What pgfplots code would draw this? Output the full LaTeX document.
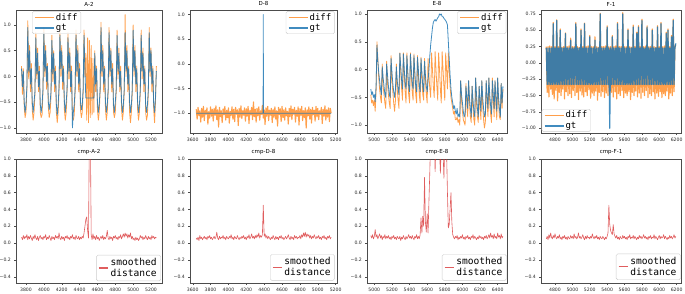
\documentclass[border=0pt]{standalone}
\usepackage{pgfplots}
\pgfplotsset{compat=1.18}
\usepackage{pgfplotstable}
\usepackage{fontspec}
\setmainfont{DejaVu Sans}
\setmonofont{DejaVu Sans Mono}
\definecolor{mblue}{HTML}{1F77B4}
\definecolor{morange}{HTML}{FF7F0E}
\definecolor{mred}{HTML}{D62728}

\pgfplotstableread{
x gt diff dist
3750 0.15 0.2 0.07
3760 -0.2 -0.35 0.04
3770 0.1 0.15 0.09
3780 -0.5 -0.6 0.05
3790 -0.7 -0.8 0.08
3800 -0.55 -0.7 0.06
3810 -0.2 -0.25 0.1
3820 0.95 1.08 0.04
3830 0.1 -0.05 0.08
3840 0.5 0.6 0.05
3850 -0.15 -0.3 0.09
3860 0.15 0.25 0.06
3870 -0.5 -0.65 0.03
3880 -0.7 -0.85 0.08
3890 -0.5 -0.7 0.05
3900 -0.3 -0.35 0.1
3910 0.75 0.85 0.06
3920 0.05 -0.05 0.04
3930 0.45 0.55 0.08
3940 -0.2 -0.3 0.03
3950 0.1 0.2 0.07
3960 -0.55 -0.7 0.09
3970 -0.7 -0.8 0.05
3980 -0.55 -0.75 0.07
3990 -0.25 -0.3 0.04
4000 0.85 0.95 0.08
4010 0.1 0.0 0.06
4020 0.5 0.6 0.1
4030 -0.1 -0.25 0.04
4040 0.2 0.25 0.07
4050 -0.5 -0.6 0.05
4060 -0.65 -0.8 0.09
4070 -0.5 -0.7 0.06
4080 -0.3 -0.4 0.03
4090 0.7 0.8 0.08
4100 0.05 -0.1 0.05
4110 0.45 0.5 0.07
4120 -0.15 -0.3 0.04
4130 0.1 0.2 0.09
4140 -0.55 -0.7 0.06
4150 -0.75 -0.9 0.08
4160 -0.55 -0.7 0.05
4170 -0.2 -0.3 0.12
4180 0.8 0.9 0.06
4190 0.15 0.0 0.04
4200 0.5 0.6 0.08
4210 -0.1 -0.25 0.05
4220 0.15 0.2 0.07
4230 -0.5 -0.65 0.03
4240 -0.7 -0.85 0.08
4250 -0.5 -0.7 0.06
4260 -0.25 -0.3 0.09
4270 0.75 0.85 0.05
4280 0.1 -0.05 0.07
4290 0.45 0.55 0.04
4300 -0.2 -0.3 0.08
4310 0.1 0.2 0.06
4320 -1.0 -0.8 0.1
4330 -0.7 -0.85 0.05
4340 -0.55 -0.75 0.07
4350 -0.25 -0.3 0.04
4360 0.8 0.9 0.09
4370 0.1 0.0 0.06
4380 0.5 0.6 0.05
4390 -0.15 -0.3 0.08
4400 0.15 0.25 0.04
4410 -0.5 -0.65 0.07
4420 -0.65 -0.8 0.05
4430 -0.55 -0.7 0.08
4440 -0.25 -0.3 0.06
4450 0.8 0.9 0.12
4460 0.1 0.0 0.2
4470 -0.42 0.45 0.28
4480 -0.42 -0.85 0.31
4490 -0.42 0.75 0.15
4500 -0.42 -0.9 0.06
4510 -0.42 0.7 1.4
4520 -0.42 -0.8 1.4
4530 -0.42 0.6 0.1
4540 -0.42 -0.75 0.04
4550 -0.42 0.35 0.11
4560 -0.42 -0.7 0.05
4570 0.45 0.5 0.08
4580 -0.15 -0.3 0.04
4590 0.15 0.2 0.09
4600 -0.5 -0.65 0.05
4610 -0.7 -0.85 0.07
4620 -0.55 -0.7 0.03
4630 -0.25 -0.3 0.06
4640 0.95 1.05 0.08
4650 0.1 0.0 0.05
4660 0.5 0.6 0.09
4670 -0.15 -0.3 0.04
4680 0.15 0.2 0.07
4690 -0.5 -0.65 0.05
4700 -0.7 -0.85 0.08
4710 -0.55 -0.7 0.15
4720 -0.25 -0.3 0.06
4730 0.85 0.95 0.04
4740 0.1 0.0 0.08
4750 0.5 0.55 0.05
4760 -0.15 -0.3 0.07
4770 0.15 0.25 0.03
4780 -0.55 -0.7 0.08
4790 -0.7 -0.8 0.06
4800 -0.5 -0.7 0.09
4810 -0.25 -0.3 0.05
4820 0.8 0.9 0.07
4830 0.1 -0.05 0.04
4840 0.45 0.55 0.08
4850 -0.2 -0.3 0.06
4860 0.1 0.2 0.1
4870 -0.5 -0.65 0.05
4880 -0.7 -0.85 0.08
4890 -0.55 -0.7 0.11
4900 -0.25 -0.3 0.07
4910 0.85 1.2 0.12
4920 0.1 0.0 0.08
4930 0.5 0.6 0.11
4940 -0.15 -0.3 0.06
4950 0.15 0.2 0.1
4960 -0.5 -0.7 0.07
4970 -0.7 -0.9 0.12
4980 -0.55 -0.7 0.05
4990 -0.25 -0.3 0.08
5000 0.9 1.0 0.04
5010 0.1 0.0 0.06
5020 0.5 0.6 0.03
5030 -0.15 -0.3 0.07
5040 0.15 0.2 0.04
5050 -0.5 -0.65 0.06
5060 -0.7 -0.85 0.03
5070 -0.55 -0.7 0.05
5080 -0.25 -0.3 0.09
5090 0.8 0.9 0.06
5100 0.1 -0.05 0.08
5110 0.45 0.55 0.04
5120 -0.15 -0.3 0.07
5130 0.15 0.2 0.05
5140 -0.55 -0.7 0.09
5150 -0.7 -0.85 0.06
5160 -0.55 -0.75 0.04
5170 -0.25 -0.3 0.08
5180 0.85 0.95 0.05
5190 0.1 0.0 0.07
5200 0.5 0.55 0.04
5210 -0.15 -0.3 0.09
5220 0.15 0.2 0.06
5230 -0.55 -0.65 0.08
5240 -0.7 -0.9 0.05
5250 -0.4 -0.5 0.07
5260 0.1 0.2 0.06
}\tabA

\pgfplotstableread{
x diff dist
3640 -0.92 0.06
3650 -1.12 0.04
3660 -0.88 0.07
3670 -1.05 0.03
3680 -0.95 0.09
3690 -1.18 0.05
3700 -0.9 0.07
3710 -1.08 0.04
3720 -0.86 0.06
3730 -1.15 0.08
3740 -0.94 0.05
3750 -1.02 0.07
3760 -0.89 0.04
3770 -1.22 0.08
3780 -0.97 0.06
3790 -1.1 0.09
3800 -0.87 0.05
3810 -1.06 0.07
3820 -0.92 0.04
3830 -1.16 0.06
3840 -0.9 0.08
3850 -1.04 0.05
3860 -0.85 0.07
3870 -1.13 0.13
3880 -0.93 0.06
3890 -1.28 0.04
3900 -0.88 0.08
3910 -1.07 0.05
3920 -0.95 0.07
3930 -1.19 0.06
3940 -0.91 0.09
3950 -1.03 0.05
3960 -0.86 0.07
3970 -1.14 0.04
3980 -0.94 0.08
3990 -1.09 0.06
4000 -0.89 0.05
4010 -1.2 0.08
4020 -0.96 0.06
4030 -1.05 0.1
4040 -0.87 0.05
4050 -1.12 0.07
4060 -0.92 0.04
4070 -1.17 0.08
4080 -0.88 0.06
4090 -1.02 0.05
4100 -0.93 0.09
4110 -1.25 0.06
4120 -0.9 0.04
4130 -1.08 0.07
4140 -0.85 0.05
4150 -1.11 0.08
4160 -0.95 0.06
4170 -1.04 0.09
4180 -0.89 0.05
4190 -1.16 0.07
4200 -0.91 0.04
4210 -1.06 0.08
4220 -0.86 0.06
4230 -1.21 0.1
4240 -0.94 0.05
4250 -1.03 0.07
4260 -0.88 0.11
4270 -1.13 0.06
4280 -0.77 0.08
4290 -1.07 0.05
4300 -0.92 0.09
4310 -1.18 0.06
4320 -0.9 0.1
4330 -1.05 0.07
4340 -0.87 0.12
4350 -1.14 0.06
4360 -0.95 0.09
4370 -1.02 0.07
4380 -0.84 0.1
4390 -1.1 0.45
4400 -0.93 0.08
4410 -1.23 0.11
4420 -0.89 0.06
4430 -1.06 0.09
4440 -0.86 0.05
4450 -1.15 0.08
4460 -0.94 0.06
4470 -1.04 0.04
4480 -0.9 0.07
4490 -1.19 0.05
4500 -0.92 0.09
4510 -1.08 0.06
4520 -0.87 0.04
4530 -1.12 0.08
4540 -0.95 0.05
4550 -1.26 0.07
4560 -0.88 0.04
4570 -1.03 0.08
4580 -0.91 0.06
4590 -1.17 0.09
4600 -0.86 0.05
4610 -1.09 0.07
4620 -0.93 0.04
4630 -1.14 0.06
4640 -0.89 0.08
4650 -1.05 0.05
4660 -0.96 0.07
4670 -1.22 0.1
4680 -0.9 0.06
4690 -1.07 0.04
4700 -0.85 0.08
4710 -1.13 0.05
4720 -0.92 0.07
4730 -1.02 0.04
4740 -0.88 0.09
4750 -1.18 0.06
4760 -0.94 0.08
4770 -1.06 0.05
4780 -0.87 0.07
4790 -1.24 0.06
4800 -0.91 0.09
4810 -1.04 0.05
4820 -0.86 0.1
4830 -1.15 0.07
4840 -0.95 0.12
4850 -1.09 0.08
4860 -0.89 0.13
4870 -1.3 0.07
4880 -0.93 0.11
4890 -1.05 0.08
4900 -0.87 0.1
4910 -1.12 0.06
4920 -0.92 0.09
4930 -1.2 0.05
4940 -0.88 0.08
4950 -1.03 0.06
4960 -0.94 0.1
4970 -1.16 0.07
4980 -0.86 0.05
4990 -1.07 0.08
5000 -0.9 0.06
5010 -1.13 0.09
5020 -0.95 0.05
5030 -1.02 0.07
5040 -0.88 0.04
5050 -1.21 0.08
5060 -0.92 0.06
5070 -1.06 0.09
5080 -0.85 0.05
5090 -1.14 0.07
5100 -0.93 0.04
5110 -1.08 0.08
5120 -0.89 0.06
5130 -1.17 0.09
5140 -0.9 0.05
5150 -1.0 0.07
}\tabD

\pgfplotstableread{
x gt diff dist
4960 -0.35 -0.45 0.09
4970 -0.45 -0.6 0.06
4980 -0.4 -0.55 0.1
4990 -0.5 -0.65 0.05
5000 -0.45 -0.55 0.08
5010 -0.58 -0.75 0.16
5020 -0.3 -0.4 0.07
5030 0.44 0.5 0.1
5040 0.15 0.2 0.05
5050 -0.05 -0.15 0.08
5060 -0.2 -0.35 0.11
5070 -0.35 -0.5 0.06
5080 -0.45 -0.6 0.09
5090 0.05 0.1 0.04
5100 -0.15 -0.3 0.08
5110 -0.3 -0.45 0.06
5120 -0.45 -0.6 0.1
5130 -0.5 -0.7 0.05
5140 0.1 0.15 0.08
5150 -0.1 -0.25 0.06
5160 -0.3 -0.45 0.09
5170 -0.45 -0.6 0.05
5180 -0.5 -0.7 0.07
5190 0.2 0.25 0.04
5200 -0.05 -0.2 0.08
5210 -0.25 -0.4 0.06
5220 -0.4 -0.6 0.09
5230 -0.5 -0.75 0.05
5240 -0.35 -0.55 0.07
5250 0.05 0.1 0.04
5260 -0.2 -0.35 0.08
5270 -0.35 -0.55 0.06
5280 -0.45 -0.7 0.05
5290 0.29 0.3 0.08
5300 0.05 -0.05 0.03
5310 -0.2 -0.35 0.07
5320 -0.35 -0.55 0.05
5330 0.28 0.3 0.09
5340 0.0 -0.1 0.06
5350 -0.25 -0.4 0.04
5360 -0.35 -0.6 0.08
5370 0.25 0.3 0.05
5380 -0.05 -0.15 0.07
5390 -0.3 -0.45 0.1
5400 -0.4 -0.6 0.06
5410 0.28 0.3 0.08
5420 0.0 -0.1 0.05
5430 -0.25 -0.4 0.09
5440 -0.35 -0.55 0.06
5450 0.25 0.28 0.04
5460 -0.05 -0.15 0.08
5470 -0.3 -0.45 0.06
5480 -0.4 -0.6 0.1
5490 0.22 0.25 0.05
5500 0.0 -0.1 0.08
5510 -0.3 -0.45 0.05
5520 -0.4 -0.6 0.1
5530 0.2 0.22 0.3
5540 -0.05 -0.15 0.12
5550 -0.3 -0.45 0.32
5560 -0.4 -0.55 0.2
5570 0.15 0.2 0.78
5580 -0.1 -0.2 0.25
5590 -0.3 -0.45 0.13
5600 -0.4 -0.6 0.35
5610 -0.2 0.2 0.12
5620 0.0 -0.1 0.5
5630 0.25 -0.35 0.85
5640 0.45 -0.5 1.3
5650 0.6 0.3 1.2
5660 0.75 0.0 1.3
5670 0.85 -0.3 1.15
5680 0.88 -0.5 1.3
5690 0.9 0.32 0.85
5700 0.87 0.0 1.2
5710 0.9 -0.3 1.3
5720 0.93 -0.55 1.2
5730 0.95 0.3 1.3
5740 1.0 0.0 1.1
5750 0.98 -0.35 0.83
5760 1.0 -0.6 1.2
5770 0.95 0.32 1.3
5780 0.95 0.0 1.1
5790 0.92 -0.3 0.77
5800 0.9 -0.55 1.2
5810 0.88 0.3 1.3
5820 0.85 0.0 1.1
5830 0.8 -0.35 0.6
5840 0.5 0.3 0.18
5850 0.2 0.0 0.22
5860 -0.1 -0.3 0.4
5870 -0.35 -0.5 0.6
5880 -0.5 -0.6 0.25
5890 -0.6 -0.7 0.1
5900 -0.7 -0.8 0.07
5910 -0.65 -0.75 0.05
5920 -0.75 -0.9 0.08
5930 -0.8 -0.9 0.06
5940 -0.7 -0.85 0.09
5950 -0.85 -0.95 0.04
5960 -0.8 -0.9 0.07
5970 -0.85 -1.0 0.05
5980 -0.2 -0.2 0.08
5990 -0.45 -0.55 0.06
6000 -0.6 -0.75 0.1
6010 -0.75 -0.9 0.05
6020 -0.85 -0.95 0.07
6030 -0.8 -1.0 0.04
6040 -0.3 -0.25 0.08
6050 -0.5 -0.65 0.06
6060 -0.7 -0.85 0.09
6070 -0.2 -0.2 0.05
6080 -0.5 -0.6 0.07
6090 -0.7 -0.85 0.04
6100 -0.85 -0.95 0.08
6110 -0.3 -0.3 0.06
6120 -0.55 -0.7 0.1
6130 -0.75 -0.9 0.05
6140 -0.85 -1.0 0.08
6150 -0.15 -0.15 0.06
6160 -0.45 -0.6 0.04
6170 -0.7 -0.85 0.07
6180 -0.85 -0.95 0.05
6190 -0.3 -0.3 0.09
6200 -0.55 -0.7 0.06
6210 -0.75 -0.9 0.08
6220 -0.2 -0.2 0.05
6230 -0.5 -0.65 0.07
6240 -0.7 -0.9 0.04
6250 -0.85 -1.05 0.08
6260 -0.8 -0.95 0.06
6270 -0.2 -0.2 0.09
6280 -0.5 -0.6 0.05
6290 -0.7 -0.85 0.07
6300 -0.15 -0.15 0.1
6310 -0.45 -0.6 0.06
6320 -0.65 -0.8 0.12
6330 -0.8 -0.95 0.07
6340 -0.2 -0.15 0.09
6350 -0.45 -0.55 0.05
6360 -0.7 -0.85 0.11
6370 -0.2 -0.2 0.06
6380 -0.5 -0.65 0.08
6390 -0.75 -0.9 0.05
6400 -0.15 -0.15 0.12
6410 -0.5 -0.6 0.07
6420 -0.7 -0.85 0.09
6430 -0.85 -0.9 0.05
6440 -0.25 -0.25 0.11
6450 -0.6 -0.7 0.06
6460 -0.3 -0.35 0.08
}\tabE

\pgfplotstableread{
x gt diff dist
4700 0.23 0.25 0.05
4710 -0.33 -0.45 0.08
4720 0.23 0.25 0.04
4730 -0.33 -0.52 0.1
4740 0.23 0.26 0.06
4750 -0.33 -0.4 0.12
4760 0.23 0.25 0.07
4770 -0.33 -0.48 0.05
4780 0.6 0.62 0.09
4790 -0.33 -0.55 0.06
4800 0.23 0.25 0.11
4810 -0.33 -0.42 0.07
4820 0.65 0.66 0.05
4830 -0.33 -0.58 0.08
4840 0.23 0.25 0.06
4850 -0.33 -0.45 0.1
4860 0.5 0.52 0.05
4870 -0.33 -0.5 0.07
4880 0.23 0.24 0.04
4890 -0.33 -0.4 0.08
4900 0.23 0.25 0.06
4910 -0.33 -0.55 0.09
4920 0.45 0.46 0.05
4930 -0.33 -0.44 0.07
4940 0.23 0.25 0.04
4950 -0.33 -0.5 0.08
4960 0.23 0.26 0.06
4970 -0.33 -0.47 0.05
4980 0.35 0.38 0.09
4990 -0.33 -0.53 0.06
5000 0.23 0.25 0.08
5010 -0.33 -0.42 0.05
5020 0.23 0.25 0.11
5030 -0.33 -0.5 0.06
5040 0.6 0.62 0.08
5050 -0.33 -0.45 0.05
5060 0.23 0.25 0.07
5070 -0.33 -0.56 0.12
5080 0.23 0.24 0.06
5090 -0.33 -0.43 0.08
5100 0.5 0.52 0.05
5110 -0.33 -0.49 0.07
5120 0.23 0.25 0.1
5130 -0.33 -0.52 0.06
5140 0.6 0.61 0.04
5150 -0.33 -0.44 0.08
5160 0.23 0.25 0.05
5170 -0.33 -0.5 0.09
5180 0.23 0.26 0.06
5190 -0.33 -0.41 0.07
5200 0.4 0.42 0.05
5210 -0.33 -0.54 0.08
5220 0.23 0.25 0.06
5230 -0.33 -0.46 0.11
5240 0.23 0.25 0.07
5250 -0.33 -0.5 0.05
5260 0.35 0.4 0.08
5270 -0.33 -0.43 0.06
5280 0.23 0.25 0.09
5290 -0.33 -0.57 0.05
5300 0.23 0.24 0.07
5310 -0.33 -0.45 0.04
5320 0.75 0.76 0.08
5330 -0.33 -0.51 0.06
5340 0.23 0.25 0.05
5350 -0.33 -0.44 0.08
5360 0.23 0.25 0.06
5370 -0.33 -0.53 0.04
5380 0.23 0.26 0.07
5390 -0.33 -0.46 0.05
5400 0.55 0.57 0.08
5410 -0.33 -0.5 0.12
5420 0.23 0.25 0.45
5430 -1.0 -0.48 0.22
5440 0.23 0.25 0.15
5450 -0.33 -0.45 0.12
5460 0.4 0.42 0.1
5470 -0.33 -0.52 0.22
5480 0.23 0.25 0.11
5490 -0.33 -0.44 0.08
5500 0.23 0.26 0.06
5510 -0.33 -0.55 0.09
5520 0.6 0.62 0.05
5530 -0.33 -0.47 0.07
5540 0.23 0.25 0.04
5550 -0.33 -0.5 0.08
5560 0.23 0.25 0.06
5570 -0.33 -0.42 0.05
5580 0.75 0.77 0.09
5590 -0.33 -0.53 0.06
5600 0.23 0.25 0.08
5610 -0.33 -0.46 0.05
5620 0.23 0.25 0.07
5630 -0.33 -0.5 0.04
5640 0.5 0.52 0.08
5650 -0.33 -0.44 0.06
5660 0.23 0.25 0.1
5670 -0.33 -0.56 0.05
5680 0.23 0.24 0.07
5690 -0.33 -0.45 0.06
5700 0.55 0.58 0.09
5710 -0.33 -0.5 0.05
5720 0.23 0.25 0.08
5730 -0.33 -0.43 0.06
5740 0.45 0.47 0.04
5750 -0.33 -0.52 0.07
5760 0.55 0.57 0.05
5770 -0.33 -0.46 0.09
5780 0.23 0.25 0.06
5790 -0.33 -0.54 0.08
5800 0.65 0.67 0.05
5810 -0.33 -0.45 0.07
5820 0.23 0.25 0.1
5830 -0.33 -0.5 0.06
5840 0.23 0.26 0.08
5850 -0.33 -0.42 0.05
5860 0.55 0.57 0.07
5870 -0.33 -0.53 0.04
5880 0.23 0.25 0.08
5890 -0.33 -0.47 0.06
5900 0.23 0.25 0.09
5910 -0.33 -0.5 0.05
5920 0.5 0.52 0.07
5930 -0.33 -0.44 0.06
5940 0.23 0.25 0.1
5950 -0.33 -0.55 0.05
5960 0.23 0.24 0.08
5970 -0.33 -0.46 0.06
5980 0.55 0.57 0.04
5990 -0.33 -0.51 0.07
6000 0.23 0.25 0.09
6010 -0.33 -0.44 0.05
6020 0.6 0.62 0.08
6030 -0.33 -0.53 0.06
6040 0.23 0.25 0.07
6050 -0.33 -0.47 0.1
6060 0.23 0.26 0.05
6070 -0.33 -0.5 0.08
6080 0.45 0.47 0.06
6090 -0.33 -0.43 0.04
6100 0.5 0.52 0.07
6110 -0.33 -0.55 0.05
6120 0.23 0.25 0.09
6130 -0.33 -0.46 0.06
6140 0.4 0.42 0.08
6150 -0.33 -0.5 0.05
6160 0.65 0.67 0.07
6170 -0.33 -0.44 0.1
6180 0.23 0.25 0.06
6190 0.3 0.28 0.08
}\tabF

\pgfplotsset{
  panel/.style={
    scale only axis, anchor=north west,
    axis line style={black!70, line width=0.35pt},
    tick align=outside, major tick length=1.6pt,
    every tick/.style={black!70, line width=0.35pt},
    tick pos=left,
    ticklabel style={font=\fontsize{4.6}{5}\selectfont, text=black!85},
    /pgf/number format/assume math mode=true,
    /pgf/number format/1000 sep={},
    title style={font=\fontsize{5.5}{6}\selectfont, inner sep=1pt, yshift=-3.2pt},
    legend cell align=left,
  },
  toprow/.style={panel, height=123pt,
    legend style={font=\fontsize{9}{9}\selectfont\ttfamily, draw=black!20,
      rounded corners=1.5pt, fill=white, fill opacity=0.8, text opacity=1, draw opacity=1,
      inner xsep=2pt, inner ysep=0.5pt, row sep=0pt, nodes={inner sep=1.3pt}},
    legend image code/.code={\draw[##1, line width=1.3pt] (0pt,0pt) -- (19pt,0pt);},
  },
  botrow/.style={panel, height=124pt, ymin=-0.475, ymax=1.0,
    ytick={-0.4,-0.2,0,0.2,0.4,0.6,0.8,1.0},
    yticklabels={−0.4,−0.2,0.0,0.2,0.4,0.6,0.8,1.0},
    legend style={font=\fontsize{9.6}{11}\selectfont\ttfamily, draw=black!20,
      rounded corners=1.5pt, fill=white, fill opacity=0.8, text opacity=1, draw opacity=1,
      inner xsep=2pt, inner ysep=1pt, cells={align=left, inner sep=1.3pt}},
    legend image code/.code={\draw[##1, line width=1.1pt] (0pt,0pt) -- (9pt,0pt);},
  },
  gtline/.style={mblue, opacity=0.85, line width=0.8pt, line join=round, no marks},
  diffline/.style={morange, opacity=0.75, line width=0.8pt, line join=round, no marks},
  distline/.style={mred, opacity=0.75, line width=0.6pt, line join=round, no marks},
}

\begin{document}
\begin{tikzpicture}
\useasboundingbox (0pt,0pt) rectangle (685pt,293pt);

% ---------- top row ----------
\begin{axis}[toprow, at={(16pt,283pt)}, width=146pt,
  xmin=3688, xmax=5323, ymin=-1.10, ymax=1.29,
  xtick={3800,4000,...,5200},
  ytick={-1,-0.5,0,0.5,1}, yticklabels={−1.0,−0.5,0.0,0.5,1.0},
  title={A-2}, legend style={at={(0.11,0.99)}, anchor=north west}]
\addplot[diffline] table[x=x,y=diff] {\tabA}; \addlegendentry{diff}
\addplot[gtline] table[x=x,y=gt] {\tabA}; \addlegendentry{gt}
\end{axis}

\begin{axis}[toprow, at={(190pt,283pt)}, width=147pt,
  xmin=3570, xmax=5215, ymin=-1.40, ymax=1.09,
  xtick={3600,3800,...,5200},
  ytick={-1,-0.5,0,0.5,1}, yticklabels={−1.0,−0.5,0.0,0.5,1.0},
  title={D-8}, legend style={at={(0.985,0.99)}, anchor=north east}]
\addplot[diffline, line width=1.1pt] table[x=x,y=diff] {\tabD}; \addlegendentry{diff}
\addplot[gtline] coordinates {(3640,-1) (4388,-1) (4390,1) (4392,-1) (5150,-1)}; \addlegendentry{gt}
\end{axis}

\begin{axis}[toprow, at={(367pt,283pt)}, width=140pt,
  xmin=4917, xmax=6506, ymin=-1.14, ymax=1.07,
  xtick={5000,5200,...,6400},
  ytick={-1,-0.5,0,0.5,1}, yticklabels={−1.0,−0.5,0.0,0.5,1.0},
  title={E-8}, legend style={at={(0.995,0.99)}, anchor=north east}]
\addplot[diffline] table[x=x,y=diff] {\tabE}; \addlegendentry{diff}
\addplot[gtline] table[x=x,y=gt] {\tabE}; \addlegendentry{gt}
\end{axis}

\begin{axis}[toprow, at={(541pt,283pt)}, width=140pt,
  xmin=4639, xmax=6250, ymin=-1.072, ymax=0.811,
  xtick={4800,5000,...,6200},
  ytick={-1,-0.75,-0.5,-0.25,0,0.25,0.5,0.75},
  yticklabels={−1.00,−0.75,−0.50,−0.25,0.00,0.25,0.50,0.75},
  title={F-1}, legend style={at={(0.005,0.01)}, anchor=south west}]
\addplot[diffline, line width=1.2pt] table[x=x,y=diff] {\tabF}; \addlegendentry{diff}
\addplot[gtline, line width=1.2pt] table[x=x,y=gt] {\tabF}; \addlegendentry{gt}
\end{axis}

% ---------- bottom row ----------
\begin{axis}[botrow, at={(16pt,134pt)}, width=146pt,
  xmin=3688, xmax=5323, xtick={3800,4000,...,5200},
  title={cmp-A-2}, legend style={at={(0.993,0.015)}, anchor=south east}]
\addplot[distline] table[x=x,y=dist] {\tabA}; \addlegendentry{smoothed\hspace{14pt}\\distance}
\end{axis}

\begin{axis}[botrow, at={(190pt,134pt)}, width=147pt,
  xmin=3570, xmax=5215, xtick={3600,3800,...,5200},
  title={cmp-D-8}, legend style={at={(0.985,0.02)}, anchor=south east}]
\addplot[distline] table[x=x,y=dist] {\tabD}; \addlegendentry{smoothed\hspace{14pt}\\distance}
\end{axis}

\begin{axis}[botrow, at={(367pt,134pt)}, width=140pt,
  xmin=4917, xmax=6506, xtick={5000,5200,...,6400},
  title={cmp-E-8}, legend style={at={(0.998,0.02)}, anchor=south east}]
\addplot[distline] table[x=x,y=dist] {\tabE}; \addlegendentry{smoothed\hspace{14pt}\\distance}
\end{axis}

\begin{axis}[botrow, at={(541pt,134pt)}, width=140pt,
  xmin=4639, xmax=6250, xtick={4800,5000,...,6200},
  title={cmp-F-1}, legend style={at={(0.998,0.025)}, anchor=south east}]
\addplot[distline] table[x=x,y=dist] {\tabF}; \addlegendentry{smoothed\hspace{14pt}\\distance}
\end{axis}

\end{tikzpicture}
\end{document}
